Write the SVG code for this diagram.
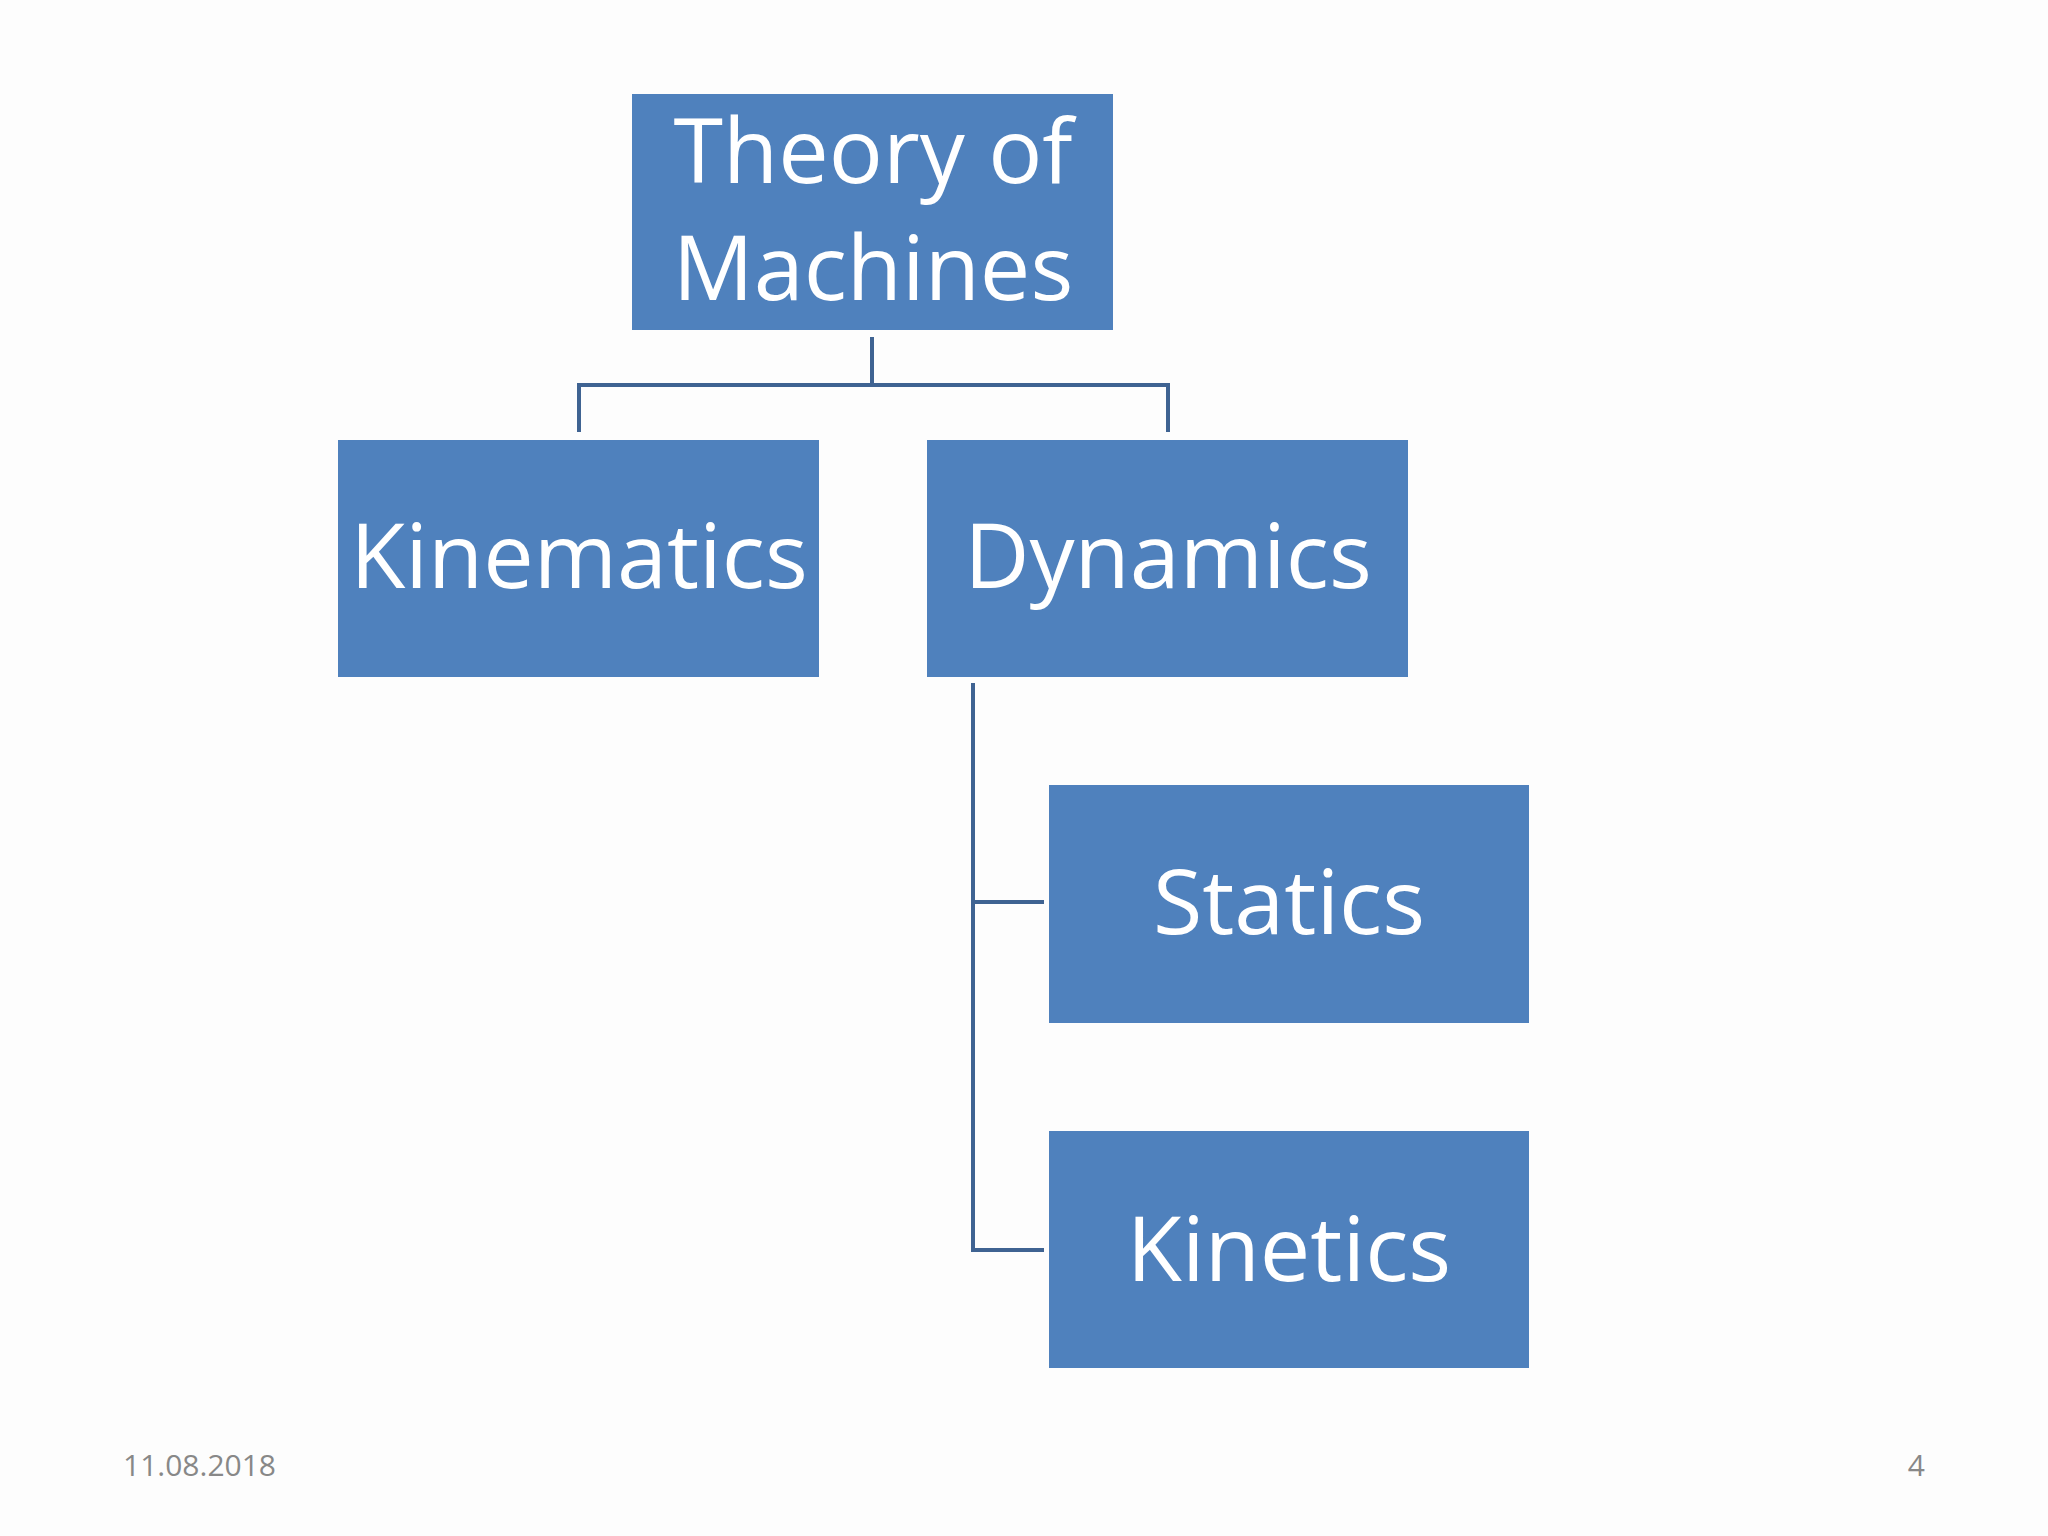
<svg xmlns="http://www.w3.org/2000/svg" width="2048" height="1536" viewBox="0 0 2048 1536">
<style>
.box{fill:#4f81bd}
.t{font-family:"Open Sans","Liberation Sans",sans-serif;font-size:90px;fill:#fff;text-anchor:middle}
.c{fill:none;stroke:#3f6392;stroke-width:4}
.f{font-family:"Open Sans","Liberation Sans",sans-serif;font-size:30px;fill:#888}
</style>
<rect width="2048" height="1536" fill="#fdfdfd"/>
<g id="connectors">
<path class="c" d="M872 337V385M579 432V385H1168V432"/>
<path class="c" d="M973 683V1250H1044M973 902H1044"/>
</g>
<g id="theory"><rect class="box" x="632" y="94" width="481" height="236"/>
<text class="t" x="873" y="183">Theory of</text><text class="t" x="873" y="300">Machines</text></g>
<g id="kinematics"><rect class="box" x="338" y="440" width="481" height="237"/><text class="t" x="579" y="588">Kinematics</text></g>
<g id="dynamics"><rect class="box" x="927" y="440" width="481" height="237"/><text class="t" x="1168" y="588">Dynamics</text></g>
<g id="statics"><rect class="box" x="1049" y="785" width="480" height="238"/><text class="t" x="1289" y="934">Statics</text></g>
<g id="kinetics"><rect class="box" x="1049" y="1131" width="480" height="237"/><text class="t" x="1289" y="1281">Kinetics</text></g>
<text class="f" x="123" y="1476">11.08.2018</text>
<text class="f" x="1925" y="1476" text-anchor="end">4</text>
</svg>
